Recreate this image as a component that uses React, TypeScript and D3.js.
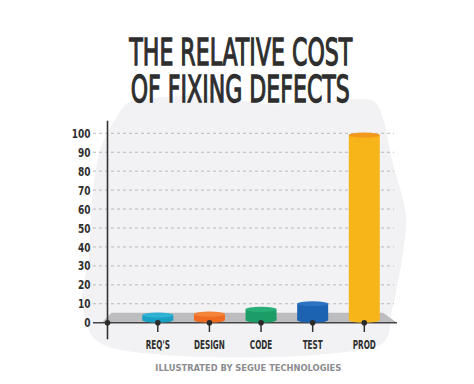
import React from "react";
import * as d3 from "d3";

const categories = ["REQ'S", "DESIGN", "CODE", "TEST", "PROD"];
const values = [4, 4.5, 7, 10, 99];
const yTicks = [0, 10, 20, 30, 40, 50, 60, 70, 80, 90, 100];
const bodyColors = ["#1b9ec4", "#ef6b22", "#1c9c66", "#1d63b2", "#f8b51a"];
const topColors = ["#2fb2d4", "#f5843a", "#28ae78", "#2b73c2", "#f39a1e"];
const titleLines = ["THE RELATIVE COST", "OF FIXING DEFECTS"];
const footer = "ILLUSTRATED BY SEGUE TECHNOLOGIES";

// decorative background blob outline
const blob: [number, number][] = [
  [135, 100], [200, 96], [270, 104], [320, 102], [370, 100], [383, 118],
  [392, 160], [406, 215], [401, 265], [392, 310], [380, 345], [300, 356],
  [200, 357], [120, 350], [92, 336], [82, 300], [89, 255], [92, 200],
  [100, 150], [118, 115],
];

const W = 474;
const H = 384;

export default function App() {
  const x = d3.scalePoint<string>().domain(categories).range([157.8, 364.3]);
  const y = d3.scaleLinear().domain([0, 100]).range([322.7, 133.3]);
  const barW = 31;
  const ry = 2.6;
  const base = y(0);
  const floorDepth = 10;
  const axisX = 107.5;
  const blobPath = d3.line().curve(d3.curveCardinalClosed.tension(0.2))(blob) || "";
  const font = "'DejaVu Sans', sans-serif";
  const titleSx = 0.597;

  return (
    <svg width={W} height={H} style={{ position: "absolute", left: 0, top: 0, background: "#fff" }}>
      <rect width={W} height={H} fill="#fff" />
      <path d={blobPath} fill="#f2f2f4" />
      <text
        transform={`scale(${titleSx},1)`}
        textAnchor="middle"
        fontFamily={font}
        fontWeight="normal"
        fontSize={37}
        fill="#2e2e2e"
        stroke="#2e2e2e"
        strokeWidth={1.3}
      >
        {titleLines.map((t, i) => (
          <tspan key={t} x={(i === 0 ? 240.8 : 240.3) / titleSx} y={i === 0 ? 65.5 : 102.5}>
            {t}
          </tspan>
        ))}
      </text>
      {/* gridlines */}
      {yTicks.filter((t) => t > 0).map((t) => (
        <line
          key={t}
          x1={93}
          x2={394}
          y1={y(t)}
          y2={y(t)}
          stroke="#b9b9bd"
          strokeWidth={1}
          strokeDasharray="3,3"
        />
      ))}
      {/* tick labels */}
      {yTicks.map((t) => (
        <text
          key={t}
          transform={`translate(90.5,${y(t) + 4.6}) scale(0.72,1)`}
          textAnchor="end"
          fontFamily={font}
          fontWeight="bold"
          fontSize={12.5}
          fill="#2e2e2e"
        >
          {t}
        </text>
      ))}
      {/* floor */}
      <polygon
        points={`${axisX - 6},${base} ${axisX + 4},${base - floorDepth} 383,${base - floorDepth} 397,${base}`}
        fill="#bdbdbf"
      />
      {/* axes */}
      <line x1={axisX} x2={axisX} y1={120.7} y2={339.3} stroke="#333" strokeWidth={1.6} />
      <line x1={93} x2={397} y1={base} y2={base} stroke="#444" strokeWidth={1.6} />
      <circle cx={axisX} cy={base} r={2.8} fill="#2a2a2a" />
      {/* bars */}
      {categories.map((c, i) => {
        const cx = x(c) as number;
        const yb = base - ry;
        const yt = y(values[i]);
        return (
          <g key={c}>
            <rect x={cx - barW / 2} y={yt} width={barW} height={yb - yt} fill={bodyColors[i]} />
            <ellipse cx={cx} cy={yb} rx={barW / 2} ry={ry} fill={bodyColors[i]} />
            <ellipse cx={cx} cy={yt} rx={barW / 2} ry={ry} fill={topColors[i]} />
          </g>
        );
      })}
      {/* category ticks & labels */}
      {categories.map((c) => {
        const cx = x(c) as number;
        return (
          <g key={c}>
            <line x1={cx} x2={cx} y1={base} y2={332} stroke="#333" strokeWidth={1.5} />
            <circle cx={cx} cy={base} r={2.8} fill="#2a2a2a" />
            <text
              transform={`translate(${cx},349) scale(0.58,1)`}
              textAnchor="middle"
              fontFamily={font}
              fontWeight="bold"
              fontSize={12.5}
              fill="#2e2e2e"
            >
              {c}
            </text>
          </g>
        );
      })}
      <text
        x={248.3}
        y={371}
        textAnchor="middle"
        fontFamily={font}
        fontWeight="bold"
        fontSize={8}
        fill="#8c8c90"
        textLength={186}
        lengthAdjust="spacingAndGlyphs"
      >
        {footer}
      </text>
    </svg>
  );
}
